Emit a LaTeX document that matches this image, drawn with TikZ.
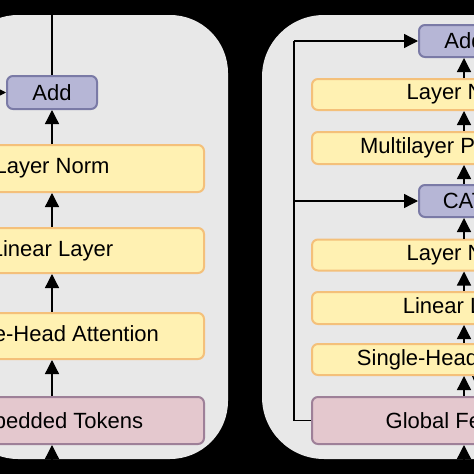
\documentclass[tikz,border=0pt]{standalone}
\usepackage{fontspec}
\setmainfont{Liberation Sans}
\usetikzlibrary{arrows.meta,positioning}

\definecolor{panelgray}{RGB}{232,232,232}
\definecolor{layerfill}{RGB}{255,241,178}
\definecolor{layerline}{RGB}{244,192,122}
\definecolor{addfill}{RGB}{182,182,214}
\definecolor{addline}{RGB}{122,122,166}
\definecolor{infill}{RGB}{228,200,206}
\definecolor{inline}{RGB}{158,128,152}

\tikzset{
	panel/.style={fill=panelgray,rounded corners=58pt},
	box/.style={draw,line width=2pt,rounded corners=6pt,inner sep=0pt,
		font=\fontsize{22}{26}\selectfont},
	addbox/.style={box,fill=addfill,draw=addline,minimum width=90pt},
	layerbox/.style={box,fill=layerfill,draw=layerline,minimum width=304pt},
	inbox/.style={box,fill=infill,draw=inline,minimum width=304pt,minimum height=47pt},
	arr/.style={line width=1.3pt,-{Triangle[length=14pt,width=14pt]}},
	wire/.style={line width=1.3pt},
}

\begin{document}
\begin{tikzpicture}[x=1pt,y=-1pt]
		\useasboundingbox (0,0) rectangle (474,474);
		\fill (0,0) rectangle (474,474);
		% the two encoder panels
		\fill[panel] (-40,15) rectangle (228,459);
		\fill[panel,rounded corners=62pt] (262,15) rectangle (540,459);

		% left panel
		\node[addbox,minimum height=33pt] (ladd) at (52,92.5) {Add};
		\node[layerbox,minimum height=47pt] (lnorm) at (52,168.5) {Layer Norm};
		\node[layerbox,minimum height=45pt] (llin) at (52,250.5) {Linear Layer};
		\node[layerbox,minimum height=46pt] (latt) at (52,336) {Single-Head Attention};
		\node[inbox] (lemb) at (52,420.5) {Embedded Tokens};
		\coordinate (lin) at (52,480);
		\coordinate (lout) at (52,-5);
		\coordinate (lres) at (-20,92.5);

		\draw[arr] (lin) -- (lemb);
		\draw[arr] (lemb) -- (latt);
		\draw[arr] (latt) -- (llin);
		\draw[arr] (llin) -- (lnorm);
		\draw[arr] (lnorm) -- (ladd);
		\draw[arr] (lres) -- (ladd);
		\draw[wire] (ladd) -- (lout);

		% right panel
		\node[addbox,minimum height=32pt] (radd) at (464,41) {Add};
		\node[layerbox,minimum height=31pt] (rnorm) at (464,94.5) {Layer Norm};
		\node[layerbox,minimum height=32pt] (rmlp) at (464,148) {Multilayer Perceptron};
		\node[addbox,minimum height=32pt] (rcat) at (464,201) {CAT};
		\node[layerbox,minimum height=31pt] (rnorm2) at (464,255) {Layer Norm};
		\node[layerbox,minimum height=32pt] (rlin) at (464,308) {Linear Layer};
		\node[layerbox,minimum height=31pt] (ratt) at (464,359.5) {Single-Head Attention};
		\node[inbox] (rglob) at (464,420.5) {Global Features};
		\coordinate (rin) at (464,480);
		\coordinate (skip) at (294,420.5);

		\draw[arr] (rin) -- (rglob);
		\draw[arr] (rglob) -- (ratt);
		\draw[arr] ([xshift=30pt]rglob.north) to[out=110,in=-40] ([xshift=8pt]ratt.south);
		\draw[arr] (ratt) -- (rlin);
		\draw[arr] (rlin) -- (rnorm2);
		\draw[arr] (rnorm2) -- (rcat);
		\draw[arr] (rcat) -- (rmlp);
		\draw[arr] (rmlp) -- (rnorm);
		\draw[arr] (rnorm) -- (radd);
		\draw[wire] (rglob.west) -- (skip) -- (skip |- radd.west);
		\draw[arr] (skip |- radd.west) -- (radd.west);
		\draw[arr] (skip |- rcat.west) -- (rcat.west);
	\end{tikzpicture}
\end{document}
